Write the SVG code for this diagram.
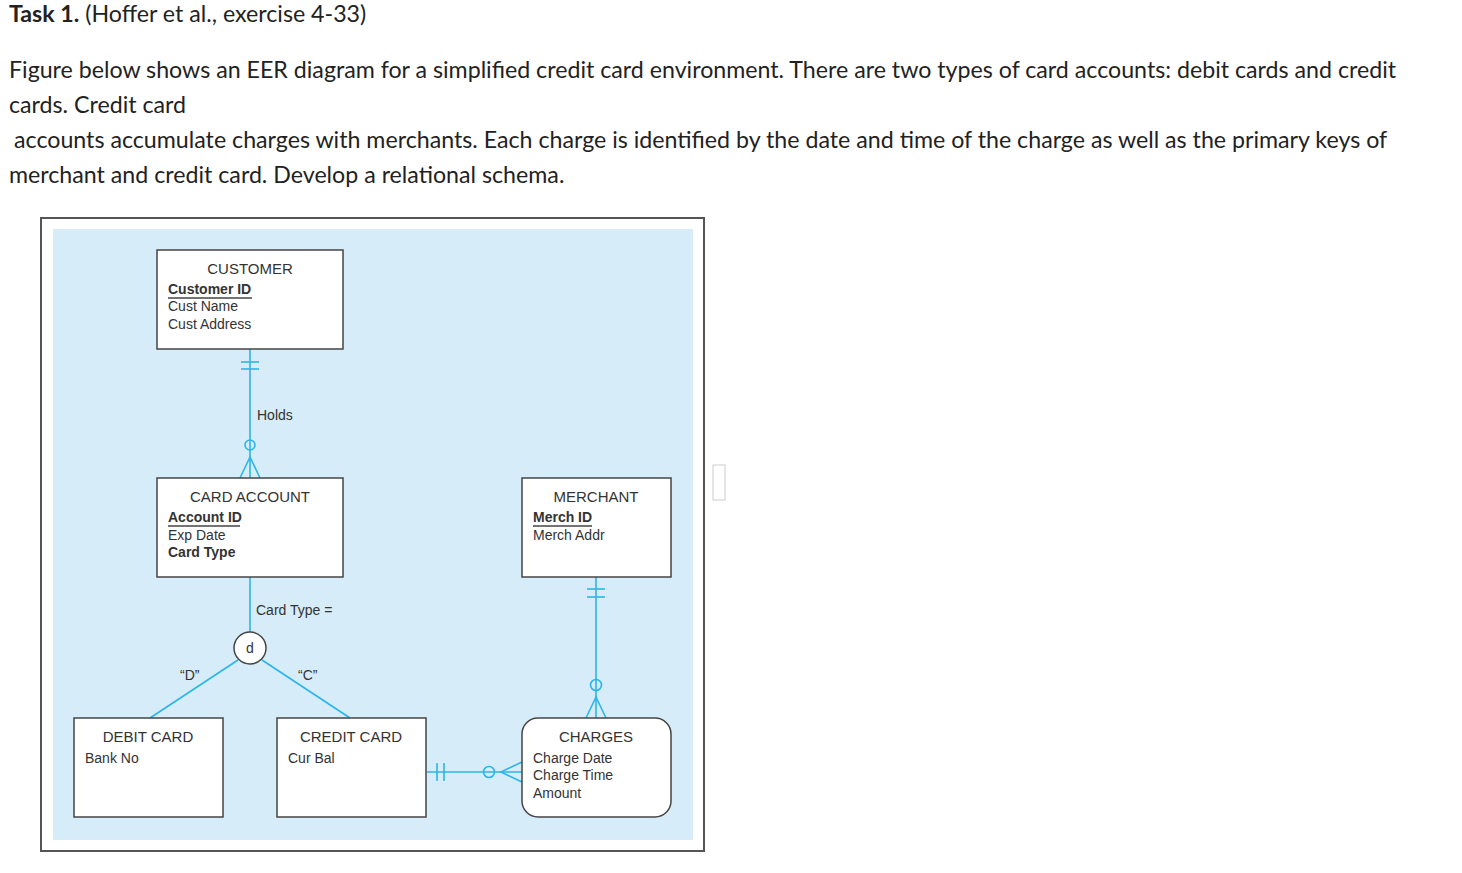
<svg xmlns="http://www.w3.org/2000/svg" width="1462" height="873" viewBox="0 0 1462 873">
<style>
.p{font-family:Lato,"Open Sans",sans-serif;font-size:23.2px;fill:#222}
.t{font-family:"Liberation Sans",Arial,sans-serif;font-size:15px;fill:#333}
.a{font-family:"Liberation Sans",Arial,sans-serif;font-size:14px;fill:#333}
.b{font-weight:bold}
.box{fill:#fff;stroke:#444;stroke-width:1.5}
.c{stroke:#2bb5e8;stroke-width:1.6;fill:none}
.u{stroke:#444;stroke-width:1.3}
</style>
<rect width="1462" height="873" fill="#fff"/>
<text class="p" x="9" y="22"><tspan class="b">Task 1.</tspan> (Hoffer et al., exercise 4-33)</text>
<text class="p" x="9" y="78">Figure below shows an EER diagram for a simplified credit card environment. There are two types of card accounts: debit cards and credit</text>
<text class="p" x="9" y="113">cards. Credit card</text>
<text class="p" x="14" y="148">accounts accumulate charges with merchants. Each charge is identified by the date and time of the charge as well as the primary keys of</text>
<text class="p" x="9" y="183">merchant and credit card. Develop a relational schema.</text>
<rect x="41" y="218" width="663" height="633" fill="#fff" stroke="#555" stroke-width="2"/>
<rect x="53" y="229" width="640" height="611" fill="#d6ecf9"/>
<rect x="713" y="465" width="12" height="35" fill="#fff" stroke="#ccc"/>
<g id="connectors">
<line class="c" x1="250" y1="349" x2="250" y2="478"/>
<line class="c" x1="241" y1="362" x2="259" y2="362"/><line class="c" x1="241" y1="369" x2="259" y2="369"/>
<circle class="c" cx="250" cy="445" r="5"/>
<path class="c" d="M240 478 L250 457 L260 478"/>
<text class="a" x="257" y="420">Holds</text>
<line class="c" x1="250" y1="577" x2="250" y2="632"/>
<text class="a" x="256" y="615">Card Type =</text>
<line class="c" x1="238" y1="660" x2="150" y2="718"/>
<line class="c" x1="262" y1="660" x2="350" y2="718"/>
<text class="a" x="180" y="680">“D”</text>
<text class="a" x="298" y="680">“C”</text>
<line class="c" x1="596" y1="577" x2="596" y2="718"/>
<line class="c" x1="587" y1="589" x2="605" y2="589"/><line class="c" x1="587" y1="597" x2="605" y2="597"/>
<circle class="c" cx="596" cy="685" r="5.5"/>
<path class="c" d="M586 718 L596 697 L606 718"/>
<line class="c" x1="427" y1="772" x2="522" y2="772"/>
<line class="c" x1="437" y1="763" x2="437" y2="781"/><line class="c" x1="444" y1="763" x2="444" y2="781"/>
<circle class="c" cx="489" cy="772" r="5.5"/>
<path class="c" d="M522 762 L501 772 L522 782"/>
</g>
<g id="d"><circle cx="250" cy="648" r="16" fill="#fff" stroke="#444" stroke-width="1.5"/><text class="a" x="250" y="653" text-anchor="middle">d</text></g>
<g id="customer"><rect class="box" x="157" y="250" width="186" height="99"/>
<text class="t" x="250" y="274" text-anchor="middle">CUSTOMER</text>
<text class="a b" x="168" y="294">Customer ID</text><line class="u" x1="168" y1="298" x2="252" y2="298"/>
<text class="a" x="168" y="311">Cust Name</text><text class="a" x="168" y="329">Cust Address</text></g>
<g id="cardaccount"><rect class="box" x="157" y="478" width="186" height="99"/>
<text class="t" x="250" y="502" text-anchor="middle">CARD ACCOUNT</text>
<text class="a b" x="168" y="522">Account ID</text><line class="u" x1="168" y1="526" x2="240" y2="526"/>
<text class="a" x="168" y="540">Exp Date</text><text class="a b" x="168" y="557">Card Type</text></g>
<g id="merchant"><rect class="box" x="522" y="478" width="149" height="99"/>
<text class="t" x="596" y="502" text-anchor="middle">MERCHANT</text>
<text class="a b" x="533" y="522">Merch ID</text><line class="u" x1="533" y1="526" x2="592" y2="526"/>
<text class="a" x="533" y="540">Merch Addr</text></g>
<g id="debit"><rect class="box" x="74" y="718" width="149" height="99"/>
<text class="t" x="148" y="742" text-anchor="middle">DEBIT CARD</text>
<text class="a" x="85" y="763">Bank No</text></g>
<g id="credit"><rect class="box" x="277" y="718" width="149" height="99"/>
<text class="t" x="351" y="742" text-anchor="middle">CREDIT CARD</text>
<text class="a" x="288" y="763">Cur Bal</text></g>
<g id="charges"><rect class="box" x="522" y="718" width="149" height="99" rx="16"/>
<text class="t" x="596" y="742" text-anchor="middle">CHARGES</text>
<text class="a" x="533" y="763">Charge Date</text><text class="a" x="533" y="780">Charge Time</text><text class="a" x="533" y="798">Amount</text></g>
</svg>
